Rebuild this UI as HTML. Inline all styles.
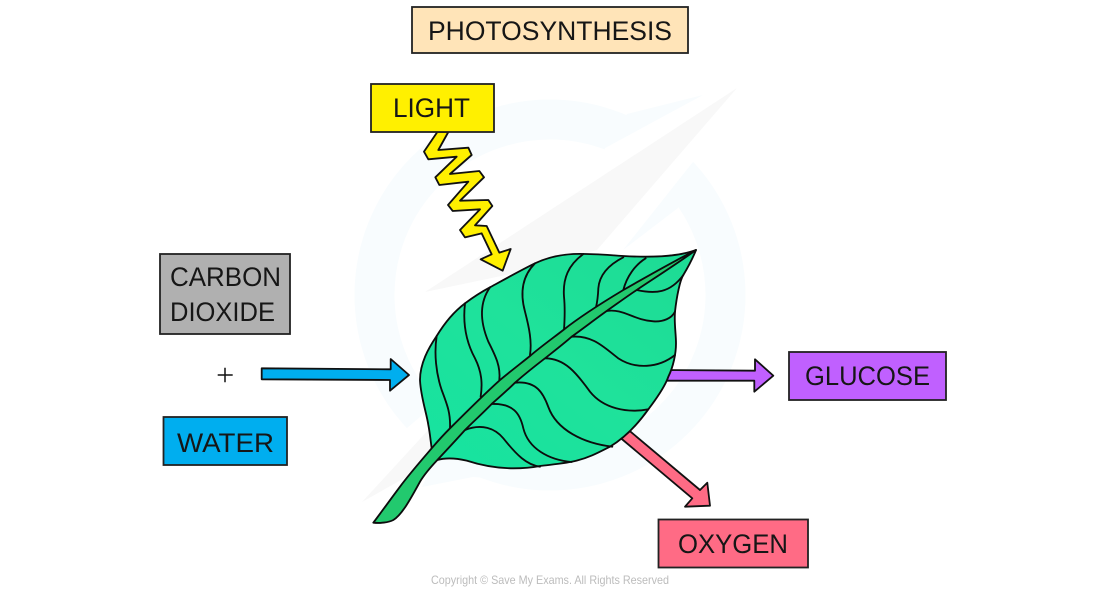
<!DOCTYPE html>
<html>
<head>
<meta charset="utf-8">
<style>
html,body{margin:0;padding:0;background:#fff;width:1100px;height:591px;overflow:hidden}
svg{display:block}
text{font-family:"Liberation Sans",sans-serif;font-size:27px;fill:#161616}
</style>
</head>
<body>
<svg width="1100" height="591" viewBox="0 0 1100 591" xmlns="http://www.w3.org/2000/svg">
<defs>
<linearGradient id="lf" x1="0" y1="1" x2="1" y2="0">
<stop offset="0" stop-color="#16e3a0"/><stop offset="0.5" stop-color="#1fe29b"/><stop offset="1" stop-color="#1ddb94"/>
</linearGradient>
</defs>

<!-- watermark -->
<circle cx="550" cy="295" r="175.500" fill="none" stroke="#f8fcfe" stroke-width="40"/>
<polygon points="605,148 703,95 770,70 693,162 623,250 560,270" fill="#fff"/>
<polygon points="407,428 440,400 500,440 473,477 430,510 380,470" fill="#fff"/>
<polygon points="627,114 703,95 605,148" fill="#f8fcfe"/>
<polygon points="693,162 678,208 623,250" fill="#f8fcfe"/>
<polygon points="437,455 422,487 473,477 540,482 520,440" fill="#f8fcfe"/>
<polygon points="737,88 425,292 520,272 597,250" fill="#f8f8f8"/>
<polygon points="362,502 430,428 440,458" fill="#f8f8f8"/>

<!-- title -->
<rect x="412" y="7" width="276" height="46" fill="#ffe4b8" stroke="#222" stroke-width="1.800"/>
<text x="428" y="40" textLength="244" lengthAdjust="spacingAndGlyphs">PHOTOSYNTHESIS</text>

<!-- light bolt -->
<g transform="translate(360 70) scale(.33333)">
<polygon points="232,186 192,245 205,268 290,260 226,322 238,345 325,335 264,405 278,423 360,418 300,480 315,502 365,490 395,553 362,568 428,602 452,537 418,548 380,468 345,466 397,408 385,390 300,392 372,322 358,303 270,312 335,255 325,233 235,240 265,186" fill="#fff000" stroke="#111" stroke-width="5.500" stroke-linejoin="round"/>
</g>
<rect x="371" y="84" width="123" height="48" fill="#fff000" stroke="#222" stroke-width="1.800"/>
<text x="393" y="117" textLength="77" lengthAdjust="spacingAndGlyphs">LIGHT</text>

<!-- left boxes -->
<rect x="160" y="254" width="130" height="80" fill="#b0b0b0" stroke="#222" stroke-width="1.800"/>
<text x="170" y="286" textLength="111" lengthAdjust="spacingAndGlyphs">CARBON</text>
<text x="170" y="321" textLength="105" lengthAdjust="spacingAndGlyphs">DIOXIDE</text>
<rect x="163.500" y="417" width="123.500" height="48" fill="#00aeef" stroke="#222" stroke-width="1.800"/>
<text x="177" y="452" textLength="97" lengthAdjust="spacingAndGlyphs">WATER</text>
<path d="M217.700 375H232.700M225 367.700V382.300" stroke="#111" stroke-width="1.500" fill="none"/>

<!-- arrows -->
<polygon points="261.700,368.300 390.700,369.300 390.700,359 409,375 390,390.700 390,380 261.700,379.300" fill="#00aeef" stroke="#111" stroke-width="1.800" stroke-linejoin="round"/>
<polygon points="660,370 755,370.700 755,359.300 773.300,375.700 754.300,391.700 754.300,380.700 660,380.700" fill="#c060ff" stroke="#111" stroke-width="1.800" stroke-linejoin="round"/>
<polygon points="625,427 700,490 707.300,482.700 710,505.700 685,506.700 692.300,498.300 617,435" fill="#ff6b85" stroke="#111" stroke-width="1.800" stroke-linejoin="round"/>

<!-- leaf -->
<g transform="translate(360 230) scale(.33333)" stroke="#0c0c0c" stroke-linejoin="round" stroke-linecap="round">
<path d="M1008 60 C950 82 860 82 790 78 C740 75 690 70 640 72 C590 75 550 88 525 100 C480 122 430 150 390 172 C360 188 335 205 315 220 C275 250 250 285 230 318 C205 355 180 400 180 450 C182 500 200 550 205 585 C210 610 212 635 215 655 L232 690 C260 682 290 685 320 692 C360 705 410 715 460 715 C490 715 520 712 540 708 C580 703 620 700 650 692 C690 682 720 665 750 650 C800 620 835 580 865 538 C890 505 915 470 925 440 C940 410 948 370 948 340 C948 310 942 280 945 245 C950 200 960 150 970 135 C985 110 1000 80 1008 60 Z" fill="url(#lf)" stroke-width="5.500"/>
<g fill="none" stroke-width="5.500">
<path d="M230 318 C222 370 228 430 245 480 C262 525 272 550 270 595"/>
<path d="M315 220 C308 280 318 335 345 385 C365 425 368 460 362 500"/>
<path d="M390 172 C360 215 358 270 385 335 C408 380 422 410 418 450"/>
<path d="M525 100 C485 140 480 190 495 245 C508 295 516 335 510 375"/>
<path d="M670 72 C625 105 608 145 612 200 C616 240 614 270 612 300"/>
<path d="M790 82 C745 105 718 135 715 175 C714 200 712 215 708 232"/>
<path d="M857 85 C825 105 800 140 790 180"/>
<path d="M830 180 C885 192 930 190 970 135"/>
<path d="M740 243 C790 235 820 270 880 274 C910 276 935 265 945 245"/>
<path d="M635 320 C700 315 735 355 775 385 C825 418 895 415 945 375"/>
<path d="M555 385 C615 385 650 430 690 485 C730 535 800 550 865 538"/>
<path d="M465 458 C530 452 550 490 565 531 C590 600 670 640 757 650"/>
<path d="M395 522 C460 520 480 550 490 595 C505 655 565 690 635 696"/>
<path d="M315 600 C365 580 405 595 430 625 C470 675 500 705 540 710"/>
</g>
<path d="M1008 60 C940 95 860 140 790 180 C720 222 660 260 610 300 C575 327 540 352 510 378 C480 402 450 425 420 450 C370 495 320 545 270 595 C250 615 232 635 215 655 C185 690 150 730 120 770 C90 810 65 845 40 878 C60 880 85 878 100 870 C125 855 150 810 180 755 C195 730 215 708 232 690 C260 660 290 628 315 600 C340 575 370 548 395 522 C420 500 445 478 465 458 C495 432 525 408 555 385 C580 365 610 342 635 320 C670 295 705 268 740 243 C770 222 800 200 830 180 C890 140 960 95 1008 60 Z" fill="#22c96e" stroke-width="5.500"/>
</g>

<!-- right boxes -->
<rect x="789" y="352" width="157" height="48" fill="#c060ff" stroke="#222" stroke-width="1.800"/>
<text x="805" y="385" textLength="125" lengthAdjust="spacingAndGlyphs">GLUCOSE</text>
<rect x="658.500" y="519.500" width="149.500" height="48" fill="#ff6b85" stroke="#222" stroke-width="1.800"/>
<text x="678" y="553" textLength="110" lengthAdjust="spacingAndGlyphs">OXYGEN</text>

<text x="431" y="584" textLength="238" lengthAdjust="spacingAndGlyphs" style="font-size:12px;fill:#bcbcbc">Copyright © Save My Exams. All Rights Reserved</text>
</svg>
</body>
</html>
